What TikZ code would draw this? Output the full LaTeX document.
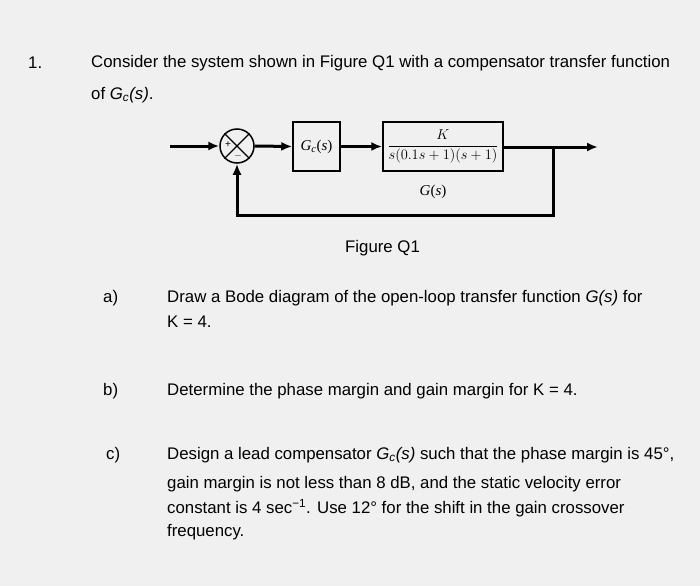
\documentclass[tikz,border=0pt]{standalone}
\usepackage{fontspec}
\setmainfont{Liberation Sans}
\newfontfamily\tnr{Liberation Serif}
\usetikzlibrary{arrows.meta}
\begin{document}
\begin{tikzpicture}[x=1pt,y=-1pt,
  txt/.style={anchor=west,inner sep=0pt,font=\fontsize{16.8}{18}\selectfont},
  blk/.style={draw,line width=1.5pt,inner sep=0pt},
  wire/.style={line width=3pt},
  arr/.style={wire,-{Latex[length=11pt,width=9pt]}}]
\fill[gray!12] (0,0) rectangle (700,586);
\useasboundingbox (0,0) rectangle (700,586);
\node[txt] (n1) at (28,63) {1.};
\node[txt] (l1) at (91,63) {Consider the system shown in Figure Q1 with a compensator transfer function};
\node[txt] (l2) at (91,95) {of \textit{G\textsubscript{c}(s)}.};
% diagram
\node[draw,circle,line width=1.5pt,minimum size=34pt,inner sep=0pt] (sum) at (237,146) {};
\draw[line width=1.2pt] (sum.north west)--(sum.south east) (sum.north east)--(sum.south west);
\node[font=\fontsize{10}{10}\selectfont] (plus) at (228,145) {+};
\node[font=\fontsize{10}{10}\selectfont] (minus) at (238,156) {$-$};
\node[blk,minimum width=47pt,minimum height=49pt,font=\tnr\fontsize{15}{17}\selectfont] (gc) at (316.5,146.5) {\textit{G\textsubscript{c}}(\textit{s})};
\node[blk,minimum width=120pt,minimum height=49pt,font=\fontsize{14}{16}\selectfont] (g) at (443,146.5) {$\displaystyle\frac{K}{s(0.1s+1)(s+1)}$};
\node[font=\tnr\fontsize{15}{17}\selectfont] (gl) at (433,192) {\textit{G}(\textit{s})};
\coordinate (in) at (170,146);
\coordinate (br) at (553,147);
\coordinate (out) at (598,147);
\coordinate (fb1) at (553,215);
\coordinate (fb2) at (237,215);
\draw[arr] (in) -- (sum.west);
\draw[arr] (sum.east) -- (gc.west);
\draw[arr] (gc.east) -- (g.west|-gc.east);
\draw[arr] (g.east|-br) -- (out);
\draw[arr] (br) -- (fb1) -- (fb2) -- (sum.south);
\node[txt] (fig) at (345,248) {Figure Q1};
\node[txt] (a) at (103,298) {a)};
\node[txt] (a1) at (167,298) {Draw a Bode diagram of the open-loop transfer function \textit{G(s)} for};
\node[txt] (a2) at (167,322) {K = 4.};
\node[txt] (b) at (103,391) {b)};
\node[txt] (b1) at (167,391) {Determine the phase margin and gain margin for K = 4.};
\node[txt] (c) at (106,455) {c)};
\node[txt] (c1) at (167,455) {Design a lead compensator \textit{G\textsubscript{c}(s)} such that the phase margin is 45°,};
\node[txt] (c2) at (167,484) {gain margin is not less than 8 dB, and the static velocity error};
\node[txt] (c3) at (167,508) {constant is 4 sec\textsuperscript{−1}. Use 12° for the shift in the gain crossover};
\node[txt] (c4) at (167,532) {frequency.};
\end{tikzpicture}
\end{document}
